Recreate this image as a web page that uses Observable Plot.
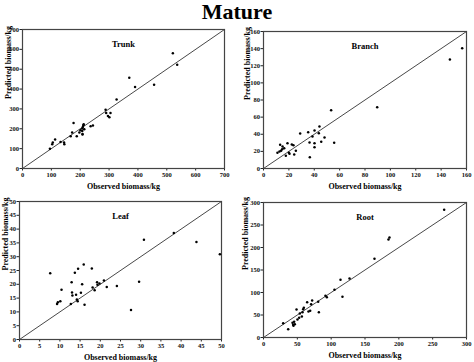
<!DOCTYPE html>
<html>
<head>
<meta charset="utf-8">
<script src="https://cdn.jsdelivr.net/npm/d3@7"></script>
<script src="https://cdn.jsdelivr.net/npm/@observablehq/plot@0.6"></script>
<style>
  html, body { margin: 0; padding: 0; background: #fff; }
  #wrap { position: relative; width: 474px; height: 362px; background: #fff; overflow: hidden; }
  #title { position: absolute; left: 0; top: 1px; width: 474px; text-align: center;
           font-family: "Liberation Serif", serif; font-weight: bold; font-size: 22px; line-height: 22px; color: #000; }
  .panel { position: absolute; }
  .panel [aria-label$="tick label"] { font-weight: bold; fill: #111; }
</style>
</head>
<body>
<div id="wrap">
  <div id="title">Mature</div>
</div>
<script>
// ---- Data (observed, predicted) ----
const trunkObs  = [95,103,105,113,132,144,145,167,172,177,188,197,201,207,208,209,211,208,207,212,214,236,244,288,290,296,301,305,326,370,390,456,521,536];
const trunkPred = [100,122,131,146,134,131,122,162,181,229,162,181,193,201,174,209,218,171,189,223,198,213,216,296,280,265,258,280,348,457,410,422,581,523];

const branchObs  = [11.0,12.6,13.9,13.1,15.0,14.7,16.3,17.6,18.9,20.0,20.5,22.3,23.6,24.2,25.5,28.9,35.2,36.3,36.5,38.6,40.2,40.2,40.2,43.6,44.1,45.5,48.1,55.7,53.3,89.6,146.9,156.6];
const branchPred = [18.3,19.9,20.6,27.6,25.7,22.6,23.7,14.8,29.6,18.3,17.1,28.0,27.2,16.3,20.6,40.9,42.4,30.4,13.2,37.4,44.4,29.6,24.9,41.3,49.0,31.1,36.2,30.0,68.1,71.6,127.3,140.5];

const leafObs  = [7.6,9.3,9.5,10.1,10.4,12.9,12.7,13.0,13.1,13.7,14.0,14.2,14.4,14.5,15.2,15.5,15.9,16.1,17.9,18.1,18.6,19.2,19.3,19.8,20.9,21.6,24.1,27.6,29.6,30.8,38.2,43.8,49.6];
const leafPred = [24.0,12.9,13.5,13.9,18.0,20.7,12.9,17.0,15.9,24.2,16.2,14.5,13.9,25.6,16.9,20.0,27.2,12.6,25.7,18.8,17.8,20.7,19.8,20.3,21.4,19.0,19.4,10.7,20.9,36.1,38.6,35.3,30.9];

const rootObs  = [29.1,36.5,42.9,43.8,44.3,45.3,46.3,48.8,50.2,52.7,53.7,56.7,57.6,58.6,59.6,64.5,66.5,69.0,70.4,71.9,80.8,81.8,91.6,93.6,104.9,113.8,116.7,127.1,164.0,184.7,186.2,267.0];
const rootPred = [31.9,18.5,32.6,28.1,25.9,34.8,29.6,62.2,40.0,43.7,53.3,46.7,56.3,63.0,65.9,78.5,57.8,59.3,74.1,82.2,79.3,56.3,92.6,89.6,105.9,128.1,90.4,131.1,174.8,217.8,222.2,283.7];

// ---- Tick values ----
const trunkTicks  = [0,100,200,300,400,500,600,700];
const branchTicks = [0,20,40,60,80,100,120,140,160];
const leafTicks   = [0,5,10,15,20,25,30,35,40,45,50];
const rootTicks   = [0,50,100,150,200,250,300];

const panelNames = ["Trunk","Branch","Leaf","Root"];
const xLabel = "Observed biomass/kg";
const yLabel = "Predicted biomass/kg";

function panel(name, obs, pred, ticks, box) {
  const pts = obs.map((o, i) => ({o, p: pred[i]}));
  const max = ticks[ticks.length - 1];
  const diag = [ticks[0], max];
  const font = "Liberation Serif";
  const chart = Plot.plot({
    width: box.w, height: box.h,
    marginLeft: box.ml, marginRight: box.mr, marginTop: box.mt, marginBottom: box.mb,
    style: {fontFamily: font, fontSize: "6.5px", background: "#fff", color: "#222"},
    x: {domain: [0, max], ticks: ticks, tickSize: 2.5, tickPadding: 1.5, label: null},
    y: {domain: [0, max], ticks: ticks, tickSize: 2.5, tickPadding: 1, label: null},
    marks: [
      Plot.line(diag, {x: d => d, y: d => d, stroke: "#333", strokeWidth: 0.9}),
      Plot.frame({stroke: "#444", strokeWidth: 1.2}),
      Plot.dot(pts, {x: "o", y: "p", r: 1.25, fill: "#000", stroke: "none"}),
      Plot.text([name], {text: d => d, frameAnchor: "top", dy: 11, fontWeight: "bold", fontSize: 8.5, fill: "#000"}),
      Plot.text([xLabel], {text: d => d, frameAnchor: "bottom", dy: 20, fontWeight: "bold", fontSize: 8, fill: "#000"}),
      Plot.text([yLabel], {text: d => d, frameAnchor: "left", dx: -box.yl, rotate: -90, fontWeight: "bold", fontSize: 8, fill: "#000"})
    ]
  });
  chart.classList.add("panel");
  chart.style.left = box.left + "px";
  chart.style.top = box.top + "px";
  document.getElementById("wrap").appendChild(chart);
}

panel(panelNames[0], trunkObs, trunkPred, trunkTicks,   {left: 0,   top: 22,  w: 237, h: 170, ml: 22, mr: 13, mt: 7,  mb: 24, yl: 14});
panel(panelNames[1], branchObs, branchPred, branchTicks, {left: 237, top: 22,  w: 237, h: 170, ml: 26, mr: 8,  mt: 9,  mb: 24, yl: 16});
panel(panelNames[2], leafObs, leafPred, leafTicks,       {left: 0,   top: 192, w: 237, h: 170, ml: 19, mr: 16, mt: 9,  mb: 23, yl: 14.5});
panel(panelNames[3], rootObs, rootPred, rootTicks,       {left: 237, top: 192, w: 237, h: 170, ml: 26, mr: 8,  mt: 10, mb: 25, yl: 18});
</script>
</body>
</html>
